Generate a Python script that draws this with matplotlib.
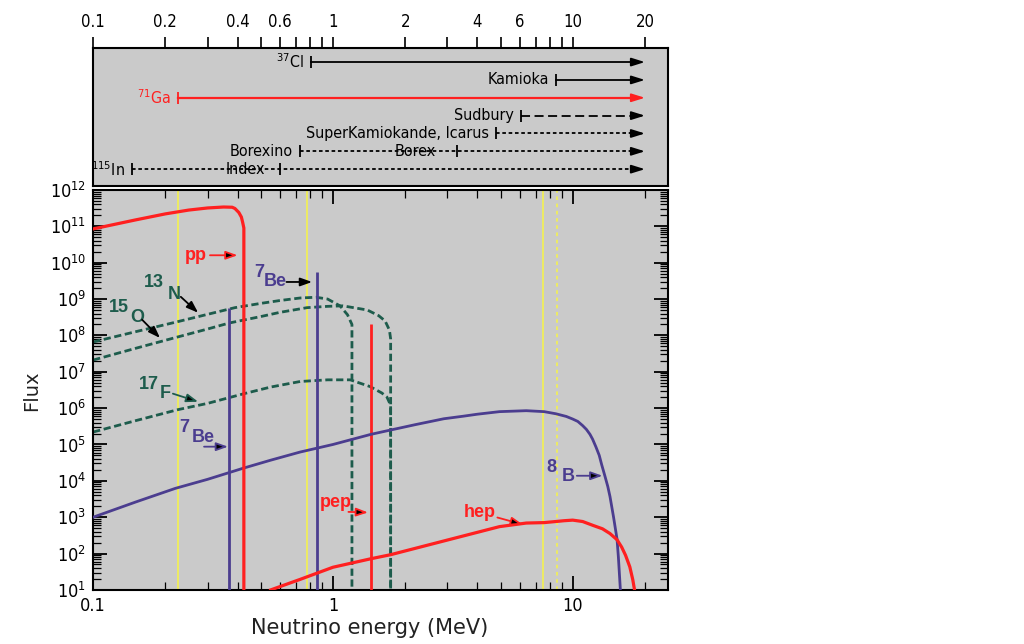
import matplotlib
matplotlib.use('Agg')
import matplotlib.pyplot as plt
from matplotlib import font_manager
from matplotlib.ticker import FixedLocator, FixedFormatter, NullFormatter, LogLocator, LogFormatterMathtext

# ---- data ----
pp_e = [0.1, 0.15, 0.2, 0.25, 0.3, 0.35, 0.38, 0.39, 0.405, 0.415, 0.42, 0.425, 0.425]
pp_f = [8.5e10, 1.5e11, 2.2e11, 2.8e11, 3.2e11, 3.4e11, 3.35e11, 3.1e11, 2.4e11, 1.8e11, 1.3e11, 9e10, 10]

n13_e = [0.1, 0.15, 0.22, 0.3, 0.39, 0.5, 0.6, 0.73, 0.85, 0.95, 1.07, 1.15, 1.2, 1.2]
n13_f = [6.6e7, 1.26e8, 2.3e8, 3.8e8, 5.8e8, 7.6e8, 9.1e8, 1.07e9, 1.12e9, 1.0e9, 6.5e8, 3.7e8, 2e8, 10]

o15_e = [0.1, 0.15, 0.22, 0.3, 0.37, 0.5, 0.6, 0.78, 0.95, 1.1, 1.39, 1.55, 1.65, 1.72, 1.74, 1.74]
o15_f = [2.1e7, 4.4e7, 8.7e7, 1.5e8, 2.2e8, 3.3e8, 4.3e8, 5.8e8, 6.3e8, 6.5e8, 5e8, 3.5e8, 2.5e8, 1.4e8, 8e7, 10]

f17_e = [0.1, 0.15, 0.226, 0.3, 0.426, 0.55, 0.73, 0.95, 1.18, 1.43, 1.6, 1.68, 1.74, 1.74]
f17_f = [2.2e5, 4.5e5, 9.1e5, 1.35e6, 2.5e6, 3.8e6, 5.4e6, 6e6, 6e6, 3.9e6, 2.6e6, 2e6, 1.2e6, 10]

b8_e = [0.1, 0.15, 0.22, 0.3, 0.42, 0.55, 0.73, 1.0, 1.44, 1.74, 2.2, 2.9, 3.5, 4.0, 4.95, 5.5,
        6.4, 7.6, 8.5, 9.4, 10.0, 10.5, 11.0, 11.4, 11.8, 12.1, 12.5, 12.9, 13.2, 13.6, 14.0,
        14.3, 14.8, 15.3, 15.5, 15.7, 15.8]
b8_f = [1e3, 2.6e3, 6.2e3, 1.1e4, 2.2e4, 3.7e4, 6.2e4, 1e5, 1.9e5, 2.5e5, 3.5e5, 5.1e5, 6e5, 6.8e5,
        8e5, 8.2e5, 8.5e5, 8e5, 7e5, 5.9e5, 5e5, 4.3e5, 3.3e5, 2.6e5, 1.9e5, 1.4e5, 8.5e4, 5e4,
        2.8e4, 1.4e4, 7e3, 3.7e3, 1e3, 250, 80, 20, 10]

hep_e = [0.55, 0.73, 1.0, 1.44, 1.74, 3.0, 4.95, 6.4, 7.6, 8.5, 9.2, 10.0, 11.0, 12.1, 13.3,
         14.3, 15.3, 16.0, 16.6, 17.3, 17.8, 18.1]
hep_f = [10, 19.5, 42, 72, 93, 235, 550, 690, 710, 760, 800, 830, 760, 600, 480,
         355, 240, 150, 90, 43, 19, 10]

be7_e = [0.37, 0.86]
be7_top = [5.8e8, 5.6e9]
pep_e = [1.44]
pep_top = [2.1e8]

yellow_e = [0.226, 0.78, 7.55]
yellow_dashed_e = [8.6]

# detectors (top panel)
det_names = ['$^{37}$Cl', 'Kamioka', '$^{71}$Ga', 'Sudbury', 'SuperKamiokande, Icarus', 'Borexino', '$^{115}$In']
det_thresh = [0.81, 8.5, 0.226, 6.1, 4.8, 0.73, 0.145]
det_styles = ['solid', 'solid', 'solid', 'long', 'short', 'short', 'short']
det_colors = ['black', 'black', '#ff2020', 'black', 'black', 'black', 'black']
det_end = 20
# secondary experiments sharing a row
sub_names = ['Borex', 'Index']
sub_rows = [5, 6]
sub_thresh = [3.3, 0.6]
sub_label_e = [2.2, 0.43]

top_ticks = [0.1, 0.2, 0.4, 0.6, 1, 2, 4, 6, 10, 20]
top_minor = [0.3, 0.5, 0.7, 0.8, 0.9, 3, 5, 7, 8, 9]

RED = '#ff2020'
PURPLE = '#4b3d8f'
GREEN = '#1d5c4c'
YELLOW = '#f0ee5a'
BG = '#cacaca'

# a condensed face if one is installed, else Liberation Sans
fl = font_manager.fontManager.ttflist
if any(f.name == 'DejaVu Sans' and f.stretch == 'condensed' for f in fl):
    plt.rcParams['font.family'] = ['DejaVu Sans']
    plt.rcParams['font.stretch'] = 'condensed'
    mt = 'DejaVu Sans:stretch=condensed'
else:
    plt.rcParams['font.family'] = ['Liberation Sans', 'DejaVu Sans']
    mt = 'Liberation Sans'
plt.rcParams['mathtext.fontset'] = 'custom'
plt.rcParams['mathtext.rm'] = mt
plt.rcParams['mathtext.it'] = mt
plt.rcParams['mathtext.bf'] = mt

fig = plt.figure(figsize=(10.24, 6.44), dpi=100)
ax = fig.add_axes([0.091, 0.084, 0.5615, 0.621])
axt = fig.add_axes([0.091, 0.711, 0.5615, 0.2145])

# ---- main panel ----
ax.set_facecolor(BG)
ax.set_xscale('log')
ax.set_yscale('log')
ax.set_xlim(0.1, 25)
ax.set_ylim(10, 1e12)

for e in yellow_e:
    ax.axvline(e, color=YELLOW, lw=1.3, zorder=1)
for e in yellow_dashed_e:
    ax.axvline(e, color=YELLOW, lw=1.3, ls=(0, (2, 2)), zorder=1)

dash = (2.6, 1.3)
ax.plot(n13_e, n13_f, color=GREEN, lw=2, dashes=dash, zorder=2)
ax.plot(o15_e, o15_f, color=GREEN, lw=2, dashes=dash, zorder=2)
ax.plot(f17_e, f17_f, color=GREEN, lw=2, dashes=dash, zorder=2)
ax.vlines(be7_e, 10, be7_top, color=PURPLE, lw=2, zorder=3)
ax.vlines(pep_e, 10, pep_top, color=RED, lw=2, zorder=3)
ax.plot(b8_e, b8_f, color=PURPLE, lw=2, zorder=3)
ax.plot(pp_e, pp_f, color=RED, lw=2.3, zorder=4)
ax.plot(hep_e, hep_f, color=RED, lw=2.3, zorder=4)

LBL = dict(fontsize=13, fontweight='bold', family=['Liberation Sans', 'DejaVu Sans'],
           stretch='normal', ha='left', va='center', zorder=6)


def label(num, elem, xy, xy2, color):
    ax.text(xy[0], xy[1], num, color=color, **LBL)
    if elem:
        ax.text(xy2[0], xy2[1], elem, color=color, **LBL)


def arrow(tail, tip, color):
    ax.annotate('', xy=tip, xytext=tail, zorder=6,
                arrowprops=dict(arrowstyle='-|>,head_length=0.7,head_width=0.25',
                                edgecolor=color, facecolor='black', lw=1.3,
                                mutation_scale=10, shrinkA=0, shrinkB=0))


label('pp', None, (0.242, 1.6e10), None, RED)
arrow((0.307, 1.6e10), (0.40, 1.6e10), RED)
label('7', 'Be', (0.47, 5.3e9), (0.515, 2.95e9), PURPLE)
arrow((0.64, 2.95e9), (0.818, 2.95e9), 'black')
label('13', 'N', (0.163, 2.8e9), (0.205, 1.3e9), GREEN)
arrow((0.232, 1.15e9), (0.274, 4.2e8), 'black')
label('15', 'O', (0.116, 5.7e8), (0.143, 3.2e8), GREEN)
arrow((0.16, 2.7e8), (0.19, 8.5e7), 'black')
label('17', 'F', (0.155, 4.4e6), (0.19, 2.6e6), GREEN)
arrow((0.215, 2.5e6), (0.274, 1.5e6), GREEN)
label('7', 'Be', (0.228, 2.9e5), (0.258, 1.55e5), PURPLE)
arrow((0.29, 8.7e4), (0.365, 8.7e4), PURPLE)
label('pep', None, (0.88, 2.5e3), None, RED)
arrow((1.16, 1.4e3), (1.40, 1.35e3), RED)
label('hep', None, (3.5, 1.35e3), None, RED)
arrow((4.85, 9.8e2), (6.19, 6.3e2), RED)
label('8', 'B', (7.8, 2.3e4), (9.0, 1.3e4), PURPLE)
arrow((10.4, 1.38e4), (13.3, 1.38e4), PURPLE)

ax.set_xticks([0.1, 1, 10])
ax.set_xticklabels(['0.1', '1', '10'])
ax.xaxis.set_minor_locator(LogLocator(base=10, subs=range(2, 10)))
ax.xaxis.set_minor_formatter(NullFormatter())
ax.set_yticks([10.0 ** k for k in range(1, 13)])
ax.yaxis.set_major_formatter(LogFormatterMathtext())
ax.yaxis.set_minor_locator(LogLocator(base=10, subs=range(2, 10), numticks=100))
ax.yaxis.set_minor_formatter(NullFormatter())
ax.tick_params(which='both', direction='in', top=True, right=True, color='black')
ax.tick_params(which='major', length=10, width=1.3, labelsize=13, pad=5)
ax.tick_params(which='minor', length=6, width=0.9)
for s in ax.spines.values():
    s.set_linewidth(1.5)

# ---- top panel: detector thresholds ----
axt.set_facecolor(BG)
axt.set_xscale('log')
axt.set_xlim(0.1, 25)
axt.set_ylim(6.95, -0.79)
axt.set_yticks([])
axt.xaxis.tick_top()
axt.xaxis.set_major_locator(FixedLocator(top_ticks))
axt.xaxis.set_major_formatter(FixedFormatter([str(t) for t in top_ticks]))
axt.xaxis.set_minor_locator(FixedLocator(top_minor))
axt.xaxis.set_minor_formatter(NullFormatter())
axt.tick_params(which='both', direction='out', length=8, width=1.2, labelsize=12, pad=4)
for s in axt.spines.values():
    s.set_linewidth(1.5)

styles = {'solid': '-', 'long': (0, (5, 2.5)), 'short': (0, (2, 1.5))}
for row, (name, thr, st, col) in enumerate(zip(det_names, det_thresh, det_styles, det_colors)):
    lw = 1.6 if col != 'black' else 1.3
    axt.plot([thr, det_end * 0.93], [row, row], color=col, lw=lw, ls=styles[st])
    axt.plot([thr], [row], marker='|', ms=8, mew=1.3, color=col)
    axt.annotate('', xy=(det_end, row), xytext=(det_end * 0.9, row),
                 arrowprops=dict(arrowstyle='-|>,head_length=0.8,head_width=0.25',
                                 color=col, lw=1.3, mutation_scale=10, shrinkA=0, shrinkB=0))
    axt.annotate(name, xy=(thr, row), xytext=(-5, 0), textcoords='offset points',
                 ha='right', va='center', fontsize=11.5, color=col)

for name, row, thr, le in zip(sub_names, sub_rows, sub_thresh, sub_label_e):
    axt.plot([thr], [row], marker='|', ms=8, mew=1.3, color='black')
    axt.text(le, row, name, ha='center', va='center', fontsize=11.5, color='black')

fig.text(0.031, 0.394, 'Flux', rotation=90, ha='center', va='center',
         fontsize=14, family='DejaVu Sans', stretch='normal', color='#222222')
fig.text(0.361, 0.025, 'Neutrino energy (MeV)', ha='center', va='center',
         fontsize=15, family='DejaVu Sans', stretch='normal', color='#222222')

fig.savefig('out.png', dpi=100)
